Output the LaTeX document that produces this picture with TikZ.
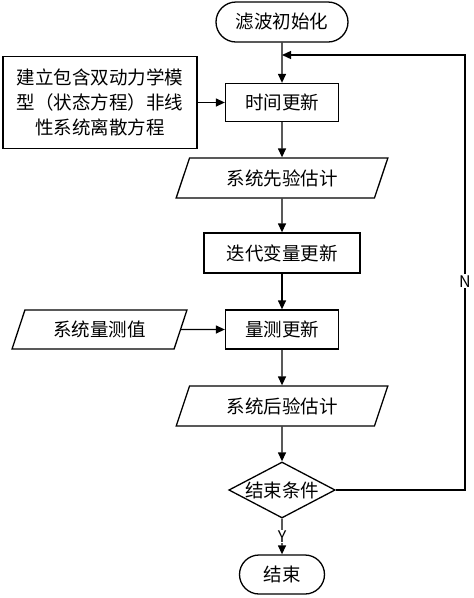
\documentclass[tikz,border=0pt]{standalone}
\usepackage{fontspec}
\setmainfont{Noto Sans CJK SC}
\usetikzlibrary{shapes.geometric, shapes.misc, arrows.meta, positioning}
\tikzset{
    base/.style={
        draw=black,
        line width=1.3pt,
        inner sep=0pt,
        font=\fontsize{18.5}{25}\selectfont,
    },
    terminal/.style={
        base,
        rounded rectangle,
        minimum height=40pt,
    },
    process/.style={
        base,
        rectangle,
        minimum height=38pt,
    },
    data/.style={
        base,
        trapezium,
        trapezium left angle=65,
        trapezium right angle=115,
        trapezium stretches=true,
        minimum height=40pt,
    },
    decision/.style={
        base,
        diamond,
        aspect=1.9,
    },
    flow/.style={
        -{Triangle[length=9pt,width=8pt]},
        line width=1.3pt,
    },
    tag/.style={
        fill=white,
        inner sep=1pt,
        font=\fontsize{16}{16}\selectfont,
    },
}

\begin{document}
\begin{tikzpicture}[x=1pt, y=1pt]
      \useasboundingbox (0,0) rectangle (474,-598);

      \node[terminal, minimum width=132pt] (start) at (282,-22) {滤波初始化};

      \node[process, below of=start, node distance=80.5pt, minimum width=113pt] (tupd) {时间更新};

      \node[process, left of=tupd, node distance=182pt, minimum width=194pt, minimum height=92pt, align=center] (model) {建立包含双动力学模\\型（状态方程）非线\\性系统离散方程};

      \node[data, below of=tupd, node distance=75.5pt, minimum width=212pt] (prior) {系统先验估计};

      \node[process, below of=prior, node distance=75pt, minimum width=156pt, minimum height=40pt] (iter) {迭代变量更新};

      \node[process, below of=iter, node distance=76.5pt, minimum width=113pt, minimum height=39pt] (mupd) {量测更新};

      \node[data, left of=mupd, node distance=182.5pt, minimum width=175pt, minimum height=39pt] (meas) {系统量测值};

      \node[data, below of=mupd, node distance=76.5pt, minimum width=212pt] (post) {系统后验估计};

      \node[decision, below of=post, node distance=84pt] (cond) {结束条件};

      \node[terminal, below of=cond, node distance=84.5pt, minimum width=85pt, minimum height=39pt] (stop) {结束};

      \coordinate (back) at (465,-55);
      \coordinate (join) at (282,-55);

      \draw[flow] (start) -- (tupd);
      \draw[flow] (model) -- (tupd);
      \draw[flow] (tupd) -- (prior);
      \draw[flow] (prior) -- (iter);
      \draw[flow] (iter) -- (mupd);
      \draw[flow] (meas) -- (mupd);
      \draw[flow] (mupd) -- (post);
      \draw[flow] (post) -- (cond);
      \draw[flow] (cond) -- node[tag]{Y} (stop);
      \draw[flow] (cond.east) -| node[tag, pos=0.74]{N} (back) -- (join);
    \end{tikzpicture}
\end{document}
